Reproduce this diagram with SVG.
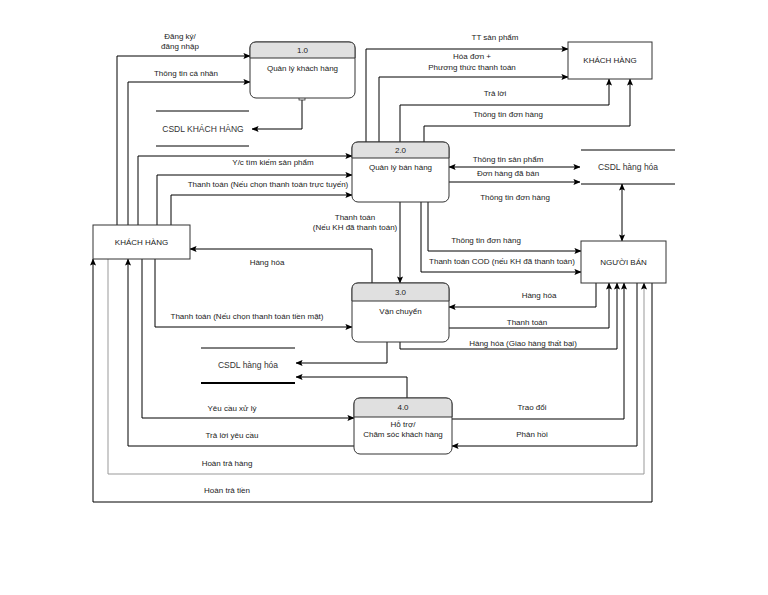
<svg xmlns="http://www.w3.org/2000/svg" width="768" height="595" viewBox="0 0 768 595">
<defs>
<marker id="arr" viewBox="0 0 8 8" refX="7.5" refY="4" markerWidth="7" markerHeight="7" markerUnits="userSpaceOnUse" orient="auto-start-reverse">
<path d="M0,0.5 L8,4 L0,7.5 L1.5,4 Z" fill="#000"/>
</marker>
<style>
text{font-family:"Liberation Sans",Arial,sans-serif;font-size:8px;fill:#222;text-anchor:middle}
.st{font-size:8.5px;fill:#333}
.box{fill:#fff;stroke:#333;stroke-width:1}
.hdr{fill:#e0e0e0;stroke:#333;stroke-width:1}
.c{fill:none;stroke:#000;stroke-width:1}
.a{marker-end:url(#arr)}
.b{marker-start:url(#arr);marker-end:url(#arr)}
.g{stroke:#999}
.sl{stroke:#000;stroke-width:1}
</style>
</defs>
<rect width="768" height="595" fill="#fff"/>

<g id="connectors">
<path class="c a" d="M117,225 V56 H250"/>
<path class="c a" d="M128,225 V82 H250"/>
<path class="c a" d="M302,98 V129 H252"/>
<rect x="299" y="97" width="6" height="3" fill="#fff" stroke="#333" stroke-width="0.8"/>
<path class="c a" d="M138,225 V156 H352"/>
<path class="c a" d="M157,225 V175 H352"/>
<path class="c a" d="M171,225 V195 H352"/>
<path class="c a" d="M366,142 V49 H568"/>
<path class="c a" d="M379,142 V77 H568"/>
<path class="c a" d="M400,142 V105 H609 V79"/>
<path class="c a" d="M424,142 V126 H630 V79"/>
<path class="c b" d="M449,167 H580"/>
<path class="c a" d="M449,182 H580"/>
<path class="c b" d="M622,184 V241"/>
<path class="c a" d="M428,202 V251 H581"/>
<path class="c a" d="M421,202 V272 H581"/>
<path class="c a" d="M400,202 V283"/>
<path class="c a" d="M372,283 V249 H190"/>
<path class="c a" d="M155,259 V327 H352"/>
<path class="c a" d="M596,283 V307 H449"/>
<path class="c a" d="M449,328 H609 V283"/>
<path class="c a" d="M400,342 V349 H617 V283"/>
<path class="c a" d="M387,342 V363 H296"/>
<path class="c a" d="M407,398 V377 H296"/>
<path class="c a" d="M452,419 H624 V283"/>
<path class="c a" d="M637,283 V446 H452"/>
<path class="c a" d="M142,259 V418 H354"/>
<path class="c a" d="M354,446 H128 V259"/>
<path class="c g a" d="M108,259 V474 H644 V283"/>
<path class="c a" d="M652,283 V502 H93 V259"/>

<text x="180" y="39">Đăng ký/</text>
<text x="180" y="49">đăng nhập</text>
<text x="186" y="76">Thông tin cá nhân</text>
<text x="273" y="165">Y/c tìm kiếm sản phẩm</text>
<text x="268" y="187">Thanh toán (Nếu chọn thanh toán trực tuyến)</text>
<text x="495" y="40">TT sản phẩm</text>
<text x="472" y="59">Hóa đơn +</text>
<text x="472" y="70">Phương thức thanh toán</text>
<text x="495" y="96">Trả lời</text>
<text x="508" y="117">Thông tin đơn hàng</text>
<text x="508" y="162">Thông tin sản phẩm</text>
<text x="508" y="176">Đơn hàng đã bán</text>
<text x="515" y="200">Thông tin đơn hàng</text>
<text x="486" y="243">Thông tin đơn hàng</text>
<text x="502" y="264">Thanh toán COD (nếu KH đã thanh toán)</text>
<text x="355" y="220">Thanh toán</text>
<text x="355" y="230">(Nếu KH đã thanh toán)</text>
<text x="267" y="265">Hàng hóa</text>
<text x="247" y="319">Thanh toán (Nếu chọn thanh toán tiền mặt)</text>
<text x="539" y="298">Hàng hóa</text>
<text x="527" y="325">Thanh toán</text>
<text x="523" y="346">Hàng hóa (Giao hàng thất bại)</text>
<text x="532" y="410">Trao đổi</text>
<text x="532" y="437">Phản hồi</text>
<text x="232" y="411">Yêu cầu xử lý</text>
<text x="232" y="438">Trả lời yêu cầu</text>
<text x="227" y="466">Hoàn trả hàng</text>
<text x="227" y="493">Hoàn trả tiền</text>
</g>

<g id="p1">
<rect class="box" x="250" y="42" width="105" height="56" rx="6"/>
<path class="hdr" d="M250,58 V48 Q250,42 256,42 H349 Q355,42 355,48 V58 Z"/>
<text x="302.5" y="53">1.0</text>
<text x="302.5" y="71">Quản lý khách hàng</text>
</g>
<g id="p2">
<rect class="box" x="352" y="142" width="97" height="60" rx="6"/>
<path class="hdr" d="M352,158 V148 Q352,142 358,142 H443 Q449,142 449,148 V158 Z"/>
<text x="400.5" y="153">2.0</text>
<text x="400.5" y="170">Quản lý bán hàng</text>
</g>
<g id="p3">
<rect class="box" x="352" y="283" width="97" height="59" rx="6"/>
<path class="hdr" d="M352,301 V289 Q352,283 358,283 H443 Q449,283 449,289 V301 Z"/>
<text x="400.5" y="295">3.0</text>
<text x="400.5" y="314">Vận chuyển</text>
</g>
<g id="p4">
<rect class="box" x="354" y="398" width="98" height="56" rx="6"/>
<path class="hdr" d="M354,417 V404 Q354,398 360,398 H446 Q452,398 452,404 V417 Z"/>
<text x="403" y="410">4.0</text>
<text x="403" y="427">Hỗ trợ/</text>
<text x="403" y="437">Chăm sóc khách hàng</text>
</g>
<g id="kh-left">
<rect class="box" x="93" y="225" width="97" height="34"/>
<text x="141.5" y="245">KHÁCH HÀNG</text>
</g>
<g id="kh-right">
<rect class="box" x="568" y="42" width="84" height="37"/>
<text x="610" y="63">KHÁCH HÀNG</text>
</g>
<g id="nguoi-ban">
<rect class="box" x="581" y="241" width="85" height="42"/>
<text x="623.5" y="265">NGƯỜI BÁN</text>
</g>
<g id="csdl-kh">
<line class="sl" x1="156" y1="111" x2="249" y2="111"/>
<line class="sl" x1="156" y1="146" x2="249" y2="146"/>
<text class="st" x="203" y="132">CSDL KHÁCH HÀNG</text>
</g>
<g id="csdl-hh-right">
<line class="sl" x1="581" y1="150" x2="675" y2="150"/>
<line class="sl" x1="581" y1="184" x2="675" y2="184"/>
<text class="st" x="628" y="170">CSDL hàng hóa</text>
</g>
<g id="csdl-hh-low">
<line class="sl" x1="201" y1="348" x2="295" y2="348"/>
<line x1="201" y1="383" x2="295" y2="383" stroke="#000" stroke-width="2"/>
<text class="st" x="248" y="368">CSDL hàng hóa</text>
</g>
</svg>
